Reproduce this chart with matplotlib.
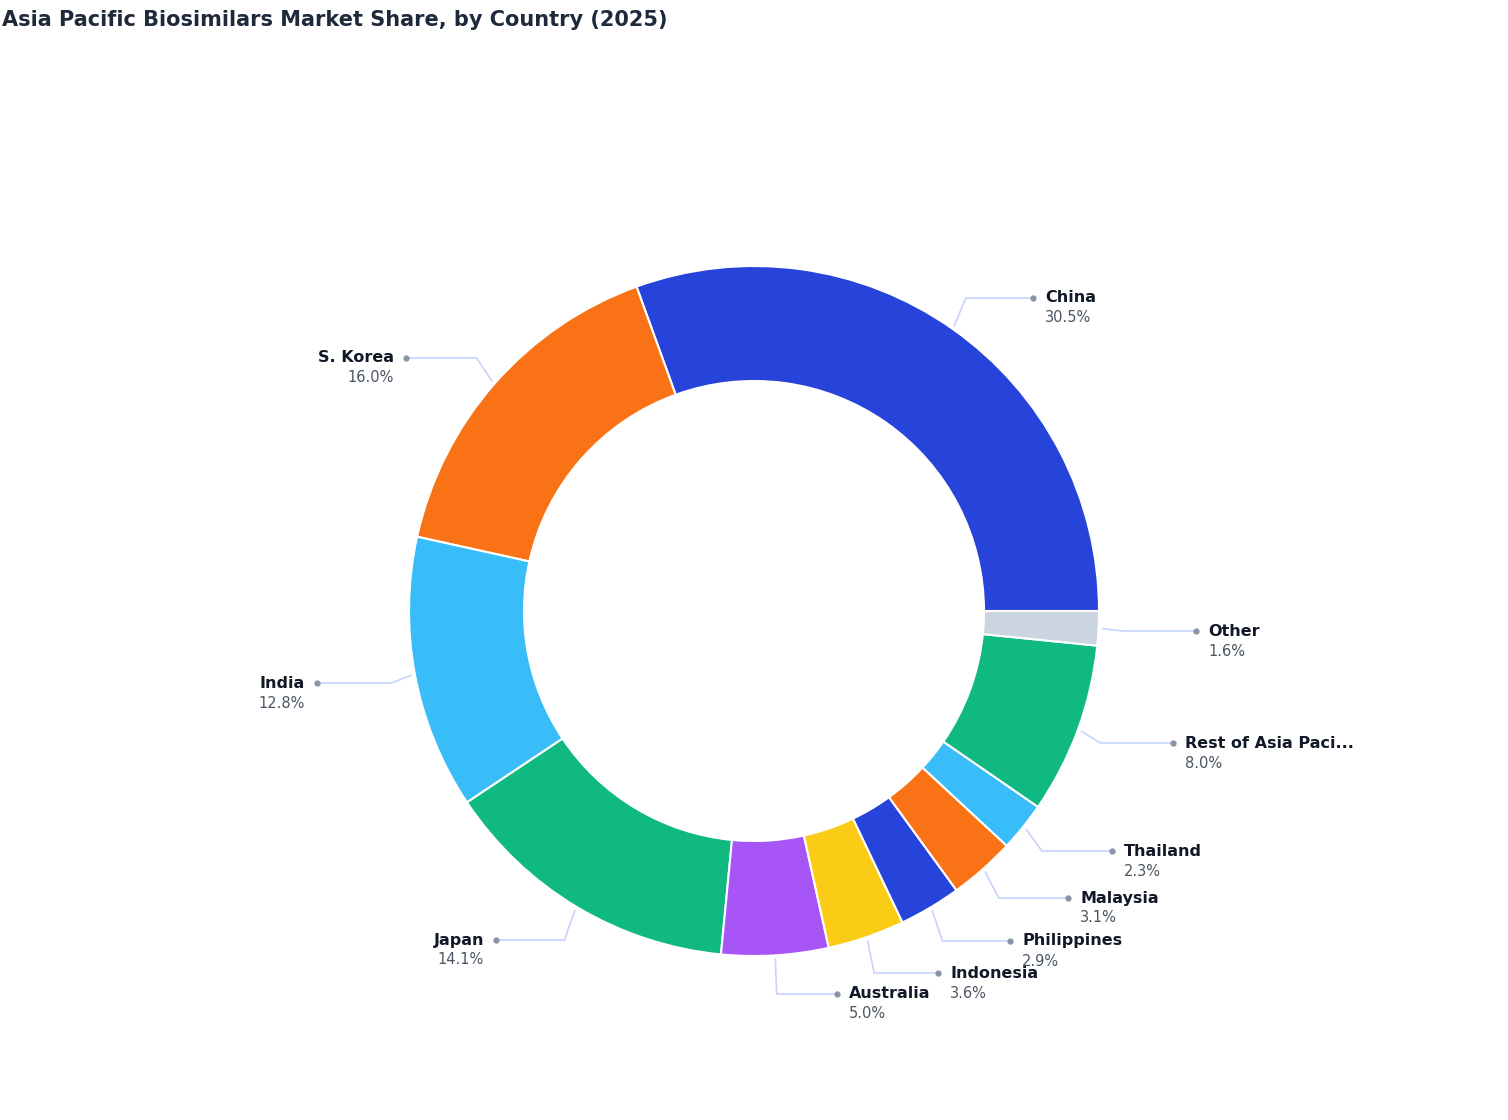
import numpy as np
import matplotlib
matplotlib.use("Agg")
import matplotlib.pyplot as plt

countries = ["China", "S. Korea", "India", "Japan", "Australia", "Indonesia",
             "Philippines", "Malaysia", "Thailand", "Rest of Asia Paci...", "Other"]
shares = [30.5, 16.0, 12.8, 14.1, 5.0, 3.6, 2.9, 3.1, 2.3, 8.0, 1.6]
colors = ["#2644d9", "#f97316", "#38bdf8", "#10b981", "#a855f7", "#facc15",
          "#2644d9", "#f97316", "#38bdf8", "#10b981", "#cbd5e1"]

# label anchor (dot) positions in pixels, layout only
dots = [(1033, 298), (406, 358), (317, 683), (496, 940), (837, 994), (938, 973),
        (1010, 941), (1068, 898), (1112, 851), (1173, 743), (1196, 631)]

W, H = 1508, 1120
fig = plt.figure(figsize=(W/100, H/100), dpi=100)
ax = fig.add_axes([0, 0, 1, 1])
ax.set_xlim(0, W); ax.set_ylim(H, 0); ax.axis("off")
cx, cy, R, Ri = 754, 611, 345, 230

ax.pie(shares, colors=colors, center=(cx, cy), radius=R, startangle=0,
       counterclock=False, wedgeprops=dict(width=R-Ri, edgecolor="white", linewidth=1.5))
ax.set_xlim(0, W); ax.set_ylim(H, 0); ax.set_aspect("auto")

total = sum(shares)
cum = 0
for name, v, (dx, dy) in zip(countries, shares, dots):
    mid = np.deg2rad((cum + v/2) / total * 360)
    cum += v
    ex, ey = cx + (R+4)*np.cos(mid), cy - (R+4)*np.sin(mid)
    bx = ex + 20*np.cos(mid)
    ax.plot([ex, bx, dx], [ey, dy, dy], color="#c7d2fe", lw=1.2, zorder=1)
    ax.plot([dx], [dy], "o", color="#8a94a6", ms=3.5, zorder=2)
    right = dx > cx
    ha = "left" if right else "right"
    tx = dx + 12 if right else dx - 12
    ax.text(tx, dy, name, ha=ha, va="center", fontsize=11.5, fontweight="bold",
            color="#111827", family="DejaVu Sans")
    ax.text(tx, dy + 20, f"{v:.1f}%", ha=ha, va="center", fontsize=10.5,
            color="#4b5563", family="DejaVu Sans")

fig.text(2/W, 1 - 20/H, "Asia Pacific Biosimilars Market Share, by Country (2025)",
         ha="left", va="center", fontsize=15, fontweight="bold", color="#1e293b")
fig.savefig("out.png", dpi=100, facecolor="white")
